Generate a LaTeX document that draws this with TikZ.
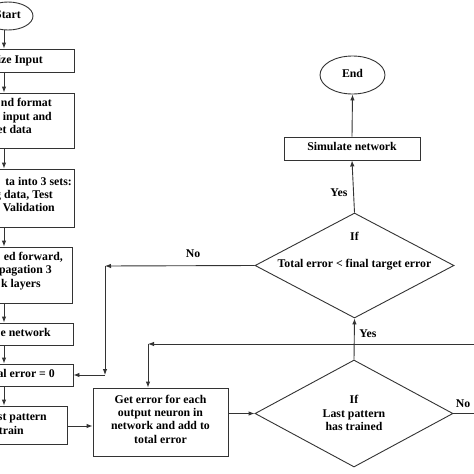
\documentclass[tikz,border=0pt]{standalone}
\usepackage{fontspec}
\setmainfont{Liberation Serif}
\usetikzlibrary{arrows.meta,shapes.geometric}
\begin{document}
\begin{tikzpicture}[x=1pt,y=-1pt,
  line/.style={draw=black!80, line width=0.9pt},
  arr/.style={line, -{Latex[length=6pt,width=4.5pt]}},
  box/.style={line, rectangle, inner sep=0pt},
  txt/.style={font=\bfseries\fontsize{11.8}{13.4}\selectfont, inner sep=0pt, text=black},
  rt/.style={txt, anchor=mid east},
  ct/.style={txt, anchor=mid},
  mt/.style={txt, align=center},
  term/.style={line, ellipse, inner sep=0pt},
  decide/.style={line, diamond, inner sep=0pt}
]
\useasboundingbox (0,0) rectangle (474,474);
\clip (0,0) rectangle (474,474);
\fill[white] (0,0) rectangle (474,474);

% left column
\node[term, minimum width=50pt, minimum height=28pt] (start) at (8,16) {};
\node[ct] (tstart) at (8,16) {Start};
\node[box, minimum width=124pt, minimum height=23pt] (b1) at (12,60.5) {};
\node[rt] (t1) at (43,61) {ize Input};
\node[box, minimum width=124pt, minimum height=55pt] (b2) at (12,120.5) {};
\node[rt] (t2a) at (52,104) {nd format};
\node[rt] (t2b) at (52,118) {input and};
\node[rt] (t2c) at (32,131) {et data};
\node[box, minimum width=124pt, minimum height=58pt] (b3) at (12,198) {};
\node[rt] (t3a) at (72,183) {ta into 3 sets:};
\node[rt] (t3b) at (53,196) {g data, Test};
\node[rt] (t3c) at (55,209) {Validation};
\node[box, minimum width=122pt, minimum height=56pt] (b4) at (11,275) {};
\node[rt] (t4a) at (63,258) {ed forward,};
\node[rt] (t4b) at (52,271) {pagation 3};
\node[rt] (t4c) at (41,285) {k layers};
\node[box, minimum width=123pt, minimum height=22pt] (b5) at (11.5,334) {};
\node[rt] (t5) at (51,334) {e network};
\node[box, minimum width=123pt, minimum height=22pt] (b6) at (11.5,375) {};
\node[rt] (t6) at (55,375) {al error = 0};
\node[box, minimum width=117pt, minimum height=38pt] (b7) at (8.5,425) {};
\node[rt] (t7a) at (47,418) {est pattern};
\node[rt] (t7b) at (24,432) {train};

% middle / right
\node[box, minimum width=135pt, minimum height=68pt] (b8) at (160.5,422) {};
\node[mt] (t8) at (160.5,419) {Get error for each\\output neuron in\\network and add to\\total error};
\node[decide, minimum width=198pt, minimum height=107pt] (d2) at (354,413.5) {};
\node[mt] (td2) at (354,413) {If\\Last pattern\\has trained};
\node[decide, minimum width=199pt, minimum height=105pt] (d1) at (354.5,265.5) {};
\node[ct] (td1a) at (354.5,238) {If};
\node[ct] (td1b) at (354.5,265) {Total error < final target error};
\node[box, minimum width=136pt, minimum height=23pt] (sim) at (352,148.5) {};
\node[ct] (tsim) at (352,148.5) {Simulate network};
\node[term, minimum width=65pt, minimum height=38pt] (end) at (352.5,75) {};
\node[ct] (tend) at (352.5,75) {End};

% labels
\node[ct] (lno1) at (193,255) {No};
\node[ct] (lyes1) at (339,194) {Yes};
\node[ct] (lyes2) at (368,335) {Yes};
\node[ct] (lno2) at (463,405) {No};

% coordinates
\coordinate (colx) at (4,0);
\coordinate (nc1) at (105,266);
\coordinate (nc2) at (105,375);
\coordinate (rc1) at (490,413.5);
\coordinate (rc2) at (490,344);
\coordinate (yc) at (148,344);

% left column arrows
\draw[arr] (start.south -| colx) -- (b1.north -| colx);
\draw[arr] (b1.south -| colx) -- (b2.north -| colx);
\draw[arr] (b2.south -| colx) -- (b3.north -| colx);
\draw[arr] (b3.south -| colx) -- (b4.north -| colx);
\draw[arr] (b4.south -| colx) -- (b5.north -| colx);
\draw[arr] (b5.south -| colx) -- (b6.north -| colx);
\draw[arr] (b6.south -| colx) -- (b7.north -| colx);

% main flow
\draw[arr] (b7.east |- 0,426) -- (b8.west |- 0,426);
\draw[arr] (b8.east |- d2.west) -- (d2.west);
\draw[arr] (d2.north) -- (d1.south);
\draw[arr] (d1.north) -- (sim.south);
\draw[arr] (sim.north) -- (end.south);

% No loop from d1
\draw[arr] (d1.west) -- (nc1);
\draw[arr] (nc1) -- (nc2);
\draw[arr] (nc2) -- (b6.east);

% No loop from d2
\draw[arr] (d2.east) -- (rc1) -- (rc2) -- (yc);
\draw[arr] (yc) -- (yc |- b8.north);
\end{tikzpicture}
\end{document}
